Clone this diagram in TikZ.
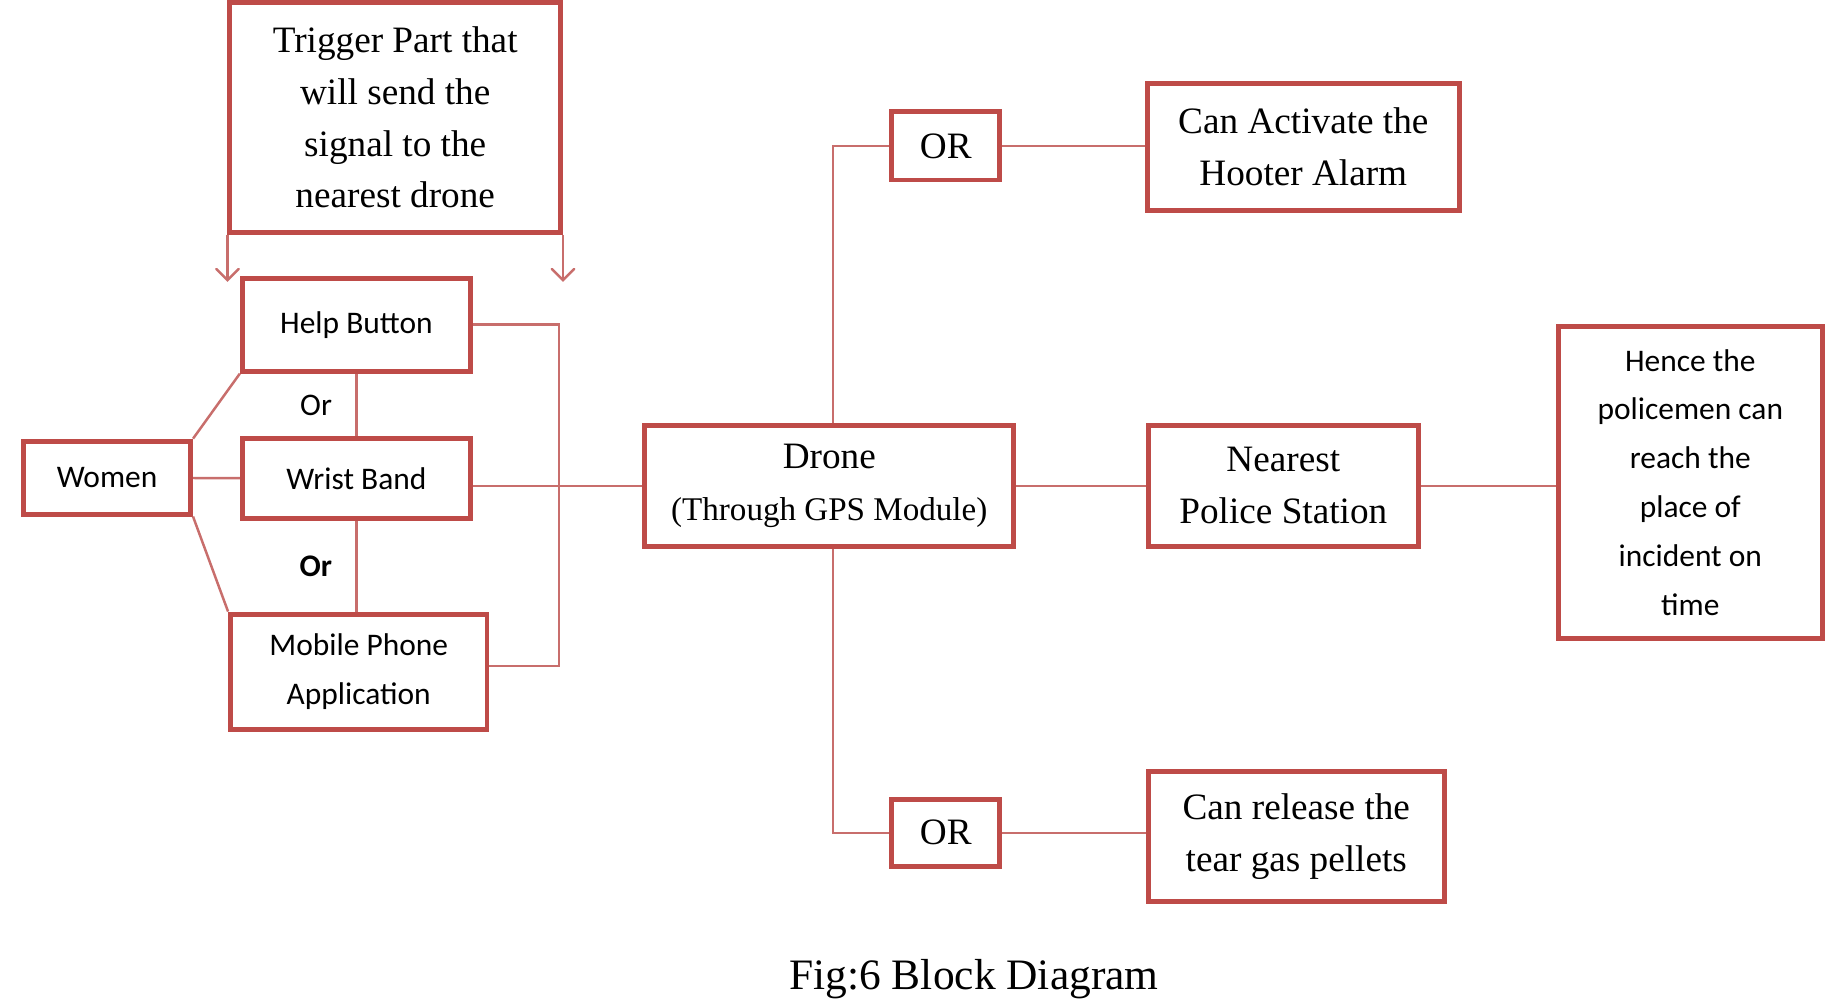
\documentclass[tikz,border=0pt]{standalone}
\usepackage{fontspec}
\setmainfont{Liberation Serif}
\newfontfamily\calib{Carlito}
\usetikzlibrary{arrows,positioning}
\definecolor{boxred}{RGB}{190,75,72}
\definecolor{linered}{RGB}{200,110,108}
\begin{document}
\begin{tikzpicture}[
  x=0.01cm, y=-0.01cm,
  >=angle 90,
  box/.style={draw=boxred, line width=1.2pt, inner sep=1pt, align=center, font=\fontsize{9}{12.5}\selectfont},
  sbox/.style={box, font=\calib\fontsize{7.6}{11.8}\selectfont},
  size/.style 2 args={minimum width=#1*0.01cm, minimum height=#2*0.01cm},
  link/.style={draw=linered, line width=0.6pt},
]
\useasboundingbox (0,0) rectangle (1560,850);

% sources
\node[box, size={281}{195}] (trig) at (336,100)
  {Trigger Part that\\will send the\\signal to the\\nearest drone};
\node[sbox, size={194}{79}] (help) at (303,276) {Help Button};
\node[sbox, size={194}{68}] (wrist) at (303,407) {Wrist Band};
\node[sbox, size={218}{98}] (mobile) at (305,571) {Mobile Phone\\Application};
\node[sbox, size={142}{62}] (women) at (91,406) {Women};

% drone and outputs
\node[box, size={314}{103}] (drone) at (705,413)
  {Drone\\{\fontsize{8}{10}\selectfont(Through GPS Module)}};
\node[box, size={92}{58}] (ortop) at (804,124) {OR};
\node[box, size={92}{57}] (orbot) at (804,708) {OR};
\node[box, size={265}{108}] (hooter) at (1108,125) {Can Activate the\\Hooter Alarm};
\node[box, size={230}{103}] (police) at (1091,413) {Nearest\\Police Station};
\node[sbox, size={224}{265}] (hence) at (1437,410)
  {Hence the\\policemen can\\reach the\\place of\\incident on\\time};
\node[box, size={252}{111}] (tear) at (1102,711) {Can release the\\tear gas pellets};

\node[font=\fontsize{10.5}{12}\selectfont] (cap) at (828,832) {Fig:6 Block Diagram};

% trigger arrows
\draw[link, ->] (trig.south west) -- ++(0,40);
\draw[link, ->] (trig.south east) -- ++(0,40);

% women side
\draw[link] (women.north east) -- (help.south west);
\draw[link] (women) -- (wrist);
\draw[link] (women.south east) -- (mobile.north west);
\draw[link] (help.south) -- node[left=0.08cm, font=\calib\fontsize{7.6}{9}\selectfont] {Or} (wrist.north);
\draw[link] (wrist.south) -- node[left=0.08cm, font=\calib\bfseries\fontsize{7.6}{9}\selectfont] {Or} (wrist.south |- mobile.north);
\draw[link] (help.east) -- ++(73,0) |- ([yshift=0.05cm]mobile.east);
\draw[link] (wrist.east |- drone.west) -- (drone.west);

% drone side
\coordinate (dtop) at ([xshift=0.03cm]drone.north);
\coordinate (dbot) at ([xshift=0.03cm]drone.south);
\draw[link] (dtop) |- (ortop);
\draw[link] (dbot) |- (orbot);
\draw[link] (ortop) -- (ortop -| hooter.west);
\draw[link] (orbot) -- (orbot -| tear.west);
\draw[link] (drone) -- (police);
\draw[link] (police) -- (police -| hence.west);
\end{tikzpicture}
\end{document}
